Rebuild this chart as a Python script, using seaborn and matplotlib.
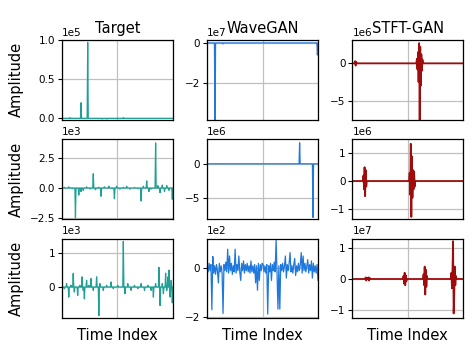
import matplotlib
matplotlib.use("Agg")
import matplotlib.pyplot as plt
import numpy as np
import pandas as pd
import seaborn as sns


N_SAMPLES = 200
COLUMNS = ["Target", "WaveGAN", "STFT-GAN"]
LINE_COLORS = {"Target": "#1fa095", "WaveGAN": "#1f78dc", "STFT-GAN": "#a00c0c"}
LINE_WIDTHS = {"Target": 0.9, "WaveGAN": 0.9, "STFT-GAN": 1.3}

# sparse signals: sample index -> amplitude (in units of 10**exponent), zero elsewhere
target_1 = {14: 0.01, 34: 0.2, 46: 0.97, 72: -0.006, 80: -0.006, 110: 0.01}
target_2 = {4: 0.05, 12: 0.1, 18: -0.05, 24: -2.5, 30: -0.6, 34: -0.3, 38: -0.2, 44: 0.1,
            50: -0.08, 56: 1.2, 60: -0.15, 66: 0.06, 70: -0.7, 76: 0.1, 84: 0.15, 90: -0.05,
            94: -0.9, 98: 0.15, 104: -0.1, 110: 0.06, 116: 0.15, 122: -0.1, 130: 0.05,
            136: -0.06, 142: -1.1, 146: 0.15, 152: 0.6, 156: -0.3, 160: -0.1, 168: 3.8,
            172: 0.2, 176: -0.4, 180: 0.25, 184: -0.3, 188: 0.2, 192: -0.2, 198: -0.95}
target_3 = {4: -0.05, 8: 0.1, 12: -0.3, 16: 0.05, 20: 0.4, 22: -0.15, 28: -0.25, 32: 0.05,
            36: 0.3, 38: -0.1, 40: -0.35, 44: 0.2, 48: 0.05, 52: 0.25, 56: -0.1, 62: 0.3,
            66: -0.85, 68: 0.1, 74: -0.1, 80: 0.05, 88: 0.15, 92: -0.05, 100: 0.05, 110: 1.35,
            113: -0.2, 118: 0.1, 124: -0.1, 130: 0.05, 136: -0.05, 142: 0.1, 148: -0.1,
            154: 0.05, 160: -0.1, 164: -0.3, 168: 0.1, 174: 0.58, 176: -0.55, 180: 0.1,
            182: -0.2, 186: 0.41, 188: -0.1, 190: 0.3, 192: 0.5, 194: -0.3, 196: 0.2, 198: -0.47}

wavegan_1 = {14: -5.0, 28: -0.05, 198: -0.6}
wavegan_2 = {166: 3.1, 190: -7.9}
wavegan_3 = [0.1, -0.15, 0.2, -0.1, 0.15, -1.7, 0.48, -0.2, 0.1, -0.25,
             0.15, -0.1, -0.6, 0.2, -0.15, 0.1, -0.2, -1.85, 0.15, -0.1,
             0.25, -0.15, 0.78, -0.2, 0.5, -0.1, 0.2, -0.25, 0.1, -0.15,
             0.78, -0.2, 0.15, -0.1, 0.5, -0.15, -0.5, 0.2, -0.1, 0.3,
             -0.2, 0.15, -0.1, 0.2, -0.15, 0.1, -0.2, 0.3, -0.15, 0.1,
             -0.2, 0.15, -0.6, 0.1, -0.9, 0.2, -0.5, 0.15, -0.1, 0.2,
             0.15, -0.15, 0.1, -0.2, 0.15, -1.88, 0.1, -0.15, 0.2, -0.5,
             0.15, -0.1, 0.25, -0.15, 1.16, -0.2, -1.67, 0.1, -1.67, 0.15,
             -0.1, 0.2, -0.15, 0.1, 0.5, -0.4, 0.15, -0.1, 0.2, 0.64,
             -0.15, 0.1, -0.2, 0.15, 0.4, -0.3, 0.1, -0.15, 0.2, -0.1,
             0.15, 0.64, -0.2, 0.5, -0.1, 0.2, -0.15, 0.1, 0.35, -0.2,
             0.15, -0.1, 0.3, -0.4, 0.2, -0.15, 0.1, -0.2, 0.15, -0.5]

stft_1 = {5: 0.3, 6: -0.3, 7: 0.2, 116: 0.6, 117: -0.8, 118: 1.5, 119: -2.5, 120: 2.7,
          121: -7.6, 122: 2.2, 123: -3.0, 124: 1.2, 125: -1.0, 126: 0.5}
stft_2 = {20: 0.2, 21: -0.3, 22: 0.5, 23: -0.55, 24: 0.4, 25: -0.2,
          103: 0.3, 104: -0.5, 105: 1.35, 106: -1.3, 107: 0.9, 108: -0.6, 109: 0.4,
          110: -0.3, 111: 0.35, 112: -0.2}
stft_3 = {24: 0.05, 25: -0.05, 26: 0.04, 29: 0.05, 30: -0.05, 31: 0.04,
          92: 0.1, 93: -0.15, 94: 0.2, 95: -0.2, 96: 0.12, 97: -0.08,
          128: 0.15, 129: -0.2, 130: 0.4, 131: -0.5, 132: 0.3, 133: -0.25, 134: 0.1,
          178: 0.2, 179: -0.3, 180: 0.35, 181: 1.22, 182: -1.11, 183: -0.6, 184: 0.4,
          185: -0.2, 186: 0.1}

SIGNALS = [
    [target_1, wavegan_1, stft_1],
    [target_2, wavegan_2, stft_2],
    [target_3, wavegan_3, stft_3],
]
EXPONENTS = [[5, 7, 6], [3, 6, 6], [3, 2, 7]]
Y_LIMITS = [
    [(-0.015, 1.0), (-3.8, 0.14), (-7.5, 3.1)],
    [(-2.6, 4.1), (-8.1, 3.6), (-1.37, 1.51)],
    [(-0.92, 1.43), (-2.04, 1.21), (-1.26, 1.3)],
]
Y_TICKS = [
    [[0.0, 0.5, 1.0], [-2, 0], [-5, 0]],
    [[-2.5, 0.0, 2.5], [-5, 0], [-1, 0, 1]],
    [[0, 1], [-2, 0], [-1, 0, 1]],
]


def to_frame(signal, exponent):
    if isinstance(signal, dict):
        values = np.zeros(N_SAMPLES)
        for idx, amp in signal.items():
            values[idx] = amp
    else:
        values = np.asarray(signal, dtype=float)
    n = len(values)
    return pd.DataFrame({"t": np.arange(n), "amp": values * 10.0 ** exponent}), n


sns.set_theme(
    style="whitegrid",
    rc={
        "axes.edgecolor": "black",
        "axes.linewidth": 0.9,
        "axes.labelcolor": "black",
        "text.color": "black",
        "xtick.color": "black",
        "ytick.color": "black",
        "grid.color": "#c0c0c0",
        "grid.linewidth": 0.9,
        "ytick.left": True,
        "ytick.major.size": 3,
        "ytick.major.width": 0.8,
        "xtick.major.size": 0,
    },
)
plt.rcParams["font.family"] = ["DejaVu Sans"]

fig, axes = plt.subplots(3, 3, figsize=(4.74, 3.55), dpi=100)
fig.subplots_adjust(left=0.131, right=0.977, top=0.887, bottom=0.104, wspace=0.31, hspace=0.25)

for r in range(3):
    for c, name in enumerate(COLUMNS):
        ax = axes[r, c]
        exp = EXPONENTS[r][c]
        df, n = to_frame(SIGNALS[r][c], exp)
        sns.lineplot(data=df, x="t", y="amp", ax=ax, color=LINE_COLORS[name],
                     linewidth=LINE_WIDTHS[name], estimator=None)
        ax.set_xlim(0, n - 1)
        ax.set_xticks([0, (n - 1) / 2, n - 1])
        ax.set_xticklabels([])
        lo, hi = Y_LIMITS[r][c]
        ax.set_ylim(lo * 10.0 ** exp, hi * 10.0 ** exp)
        ax.set_yticks([t * 10.0 ** exp for t in Y_TICKS[r][c]])
        ax.ticklabel_format(axis="y", style="sci", scilimits=(0, 0))
        ax.tick_params(axis="y", labelsize=7.5, pad=2)
        ax.yaxis.get_offset_text().set_fontsize(7.5)
        ax.set_xlabel("Time Index" if r == 2 else "", fontsize=10.5)
        ax.set_ylabel("Amplitude" if c == 0 else "", fontsize=10.5)
        if r == 0:
            # fixed y keeps the title level with the "1eN" offset text
            ax.set_title(name, fontsize=10.5, pad=5, y=1.0)

fig.align_ylabels(axes[:, 0])
fig.savefig("out.png", dpi=100)
